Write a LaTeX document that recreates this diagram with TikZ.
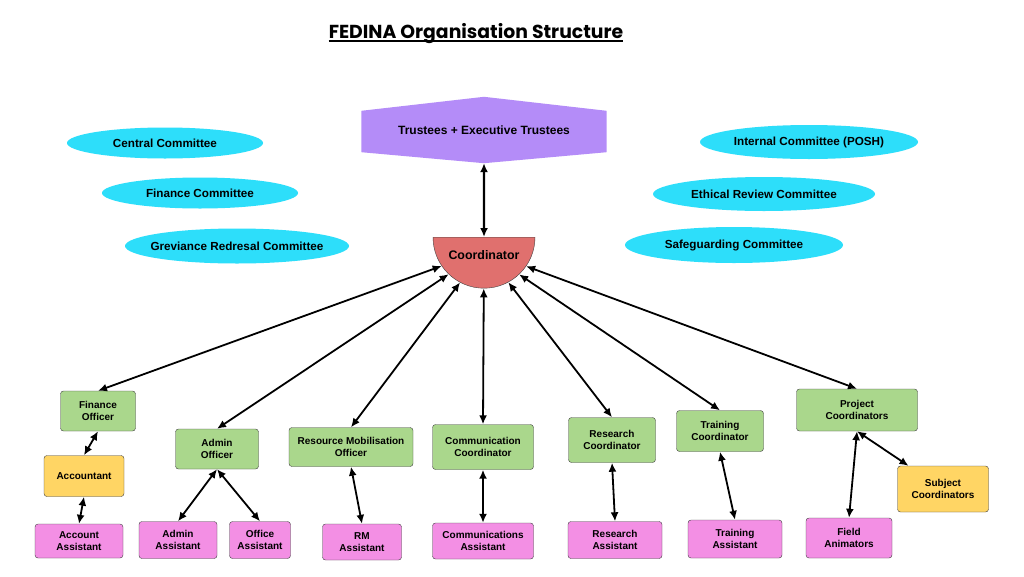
\documentclass[tikz,border=0pt]{standalone}
\usepackage{fontspec}
\setmainfont{Liberation Sans}
\newfontfamily\titlefont{Poppins}
\usetikzlibrary{arrows.meta,shapes.geometric,backgrounds}
\definecolor{grn}{HTML}{AAD78C}
\definecolor{ylw}{HTML}{FFD564}
\definecolor{pnk}{HTML}{F38FE4}
\definecolor{cyn}{HTML}{2DDEFA}
\definecolor{purp}{HTML}{B48CF8}
\definecolor{coordred}{HTML}{E0706E}
\begin{document}
\begin{tikzpicture}[x=1pt, y=-1pt, font=\fontsize{10}{11.7}\selectfont\bfseries,
  box/.style={draw=black!75, rounded corners=3pt, align=center, inner sep=2pt, fill=#1},
  comm/.style={ellipse, fill=cyn, inner xsep=-8pt, inner ysep=0pt, font=\fontsize{11.7}{13}\selectfont\bfseries},
  arr/.style={{Latex[length=9pt,width=8pt]}-{Latex[length=9pt,width=8pt]}, line width=1.8pt}]
\begin{scope}[on background layer]
\fill[white] (0,0) rectangle (1024,576);
\end{scope}
\useasboundingbox (0,0) rectangle (1024,576);
\node[anchor=base, inner sep=0pt, font=\titlefont\bfseries\fontsize{18.8}{22}\selectfont] (title) at (476,38) {FEDINA Organisation Structure};
\draw[line width=1.8pt] ([yshift=-3pt]title.base west) -- ([yshift=-3pt]title.base east);
% top of the tree
\node[minimum width=245pt, minimum height=66pt, inner sep=0pt, font=\fontsize{12}{14}\selectfont\bfseries] (trustees) at (484,130) {Trustees + Executive Trustees};
\begin{scope}[on background layer]
\fill[purp] ([yshift=-14pt]trustees.north west) -- (trustees.north) -- ([yshift=-14pt]trustees.north east) -- ([yshift=11pt]trustees.south east) -- (trustees.south) -- ([yshift=11pt]trustees.south west) -- cycle;
\end{scope}
\node[semicircle, shape border rotate=180, draw=black!75, fill=coordred, minimum width=102pt, inner sep=1pt, text height=17pt, text depth=0pt, anchor=chord center, font=\fontsize{12.4}{14}\selectfont\bfseries] (coord) at (484,237) {Coordinator};
% committees
\node[comm, minimum width=196pt, minimum height=31pt] (centcomm) at (165,143) {Central Committee};
\node[comm, minimum width=196pt, minimum height=31pt] (fincomm) at (200,193) {Finance Committee};
\node[comm, minimum width=224pt, minimum height=35pt] (grievcomm) at (237,246) {Greviance Redresal Committee};
\node[comm, minimum width=218pt, minimum height=34pt] (intcomm) at (809,142) {Internal Committee (POSH)};
\node[comm, minimum width=222pt, minimum height=34pt] (ethcomm) at (764,194) {Ethical Review Committee};
\node[comm, minimum width=218pt, minimum height=36pt] (safecomm) at (734,245) {Safeguarding Committee};
% officers and coordinators
\node[box=grn, minimum width=75pt, minimum height=40pt] (finoff) at (98,411) {Finance\\Officer};
\node[box=grn, minimum width=83pt, minimum height=40pt] (admoff) at (217,449) {Admin\\Officer};
\node[box=grn, minimum width=124pt, minimum height=39pt] (rmo) at (351,447) {Resource Mobilisation\\Officer};
\node[box=grn, minimum width=101pt, minimum height=45pt] (commco) at (483,447) {Communication\\Coordinator};
\node[box=grn, minimum width=87pt, minimum height=45pt] (resco) at (612,440) {Research\\Coordinator};
\node[box=grn, minimum width=87pt, minimum height=41pt] (trainco) at (720,431) {Training\\Coordinator};
\node[box=grn, minimum width=121pt, minimum height=42pt] (projco) at (857,410) {Project\\Coordinators};
\node[box=ylw, minimum width=80pt, minimum height=41pt] (acct) at (84,476) {Accountant};
\node[box=ylw, minimum width=91pt, minimum height=46pt] (subjco) at (943,489) {Subject\\Coordinators};
% assistants
\node[box=pnk, minimum width=88pt, minimum height=34pt] (acctasst) at (79,541) {Account\\Assistant};
\node[box=pnk, minimum width=78pt, minimum height=37pt] (admasst) at (178,540) {Admin\\Assistant};
\node[box=pnk, minimum width=61pt, minimum height=37pt] (offasst) at (260,540) {Office\\Assistant};
\node[box=pnk, minimum width=79pt, minimum height=36pt] (rmasst) at (362,542) {RM\\Assistant};
\node[box=pnk, minimum width=101pt, minimum height=36pt] (commasst) at (483,541) {Communications\\Assistant};
\node[box=pnk, minimum width=94pt, minimum height=37pt] (resasst) at (615,540) {Research\\Assistant};
\node[box=pnk, minimum width=94pt, minimum height=38pt] (trainasst) at (735,539) {Training\\Assistant};
\node[box=pnk, minimum width=86pt, minimum height=40pt] (fieldan) at (849,538) {Field\\Animators};
% connectors
\draw[arr, line width=2.4pt] (trustees) -- (coord);
\draw[arr] (coord) -- (finoff.north); \draw[arr] (coord) -- (admoff.north); \draw[arr] (coord) -- (rmo.north);
\draw[arr] (coord) -- (commco.north); \draw[arr] (coord) -- (resco.north); \draw[arr] (coord) -- (trainco.north);
\draw[arr] (coord) -- (projco.north);
\draw[arr] (finoff.south) -- (acct.north); \draw[arr] (acct.south) -- (acctasst.north);
\draw[arr] (admoff.south) -- (admasst.north); \draw[arr] (admoff.south) -- (offasst.north);
\draw[arr] (rmo.south) -- (rmasst.north); \draw[arr] (commco.south) -- (commasst.north);
\draw[arr] (resco.south) -- (resasst.north); \draw[arr] (trainco.south) -- (trainasst.north);
\draw[arr] (projco.south) -- (fieldan.north); \draw[arr] (projco.south) -- (subjco);
\end{tikzpicture}
\end{document}
